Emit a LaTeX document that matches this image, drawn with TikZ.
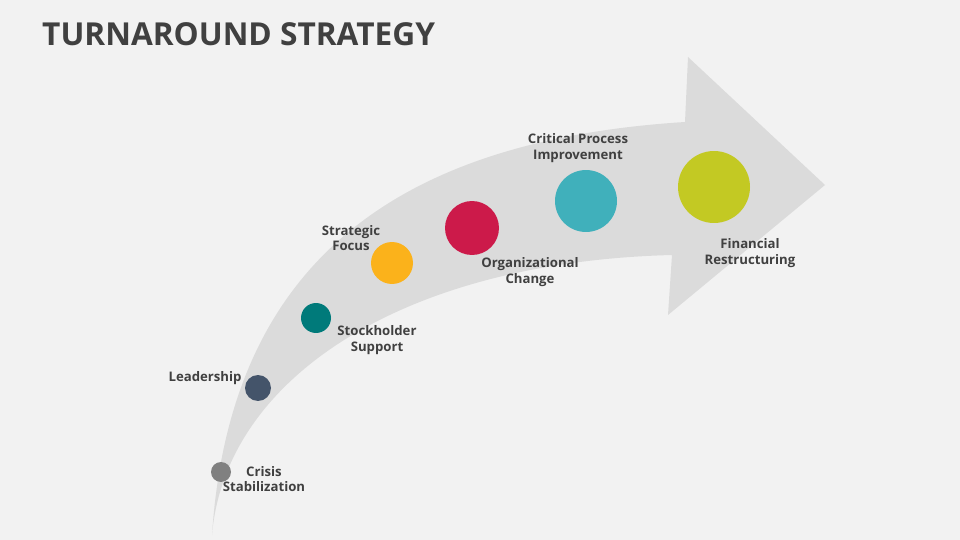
\documentclass[tikz,border=0pt]{standalone}
\usepackage{fontspec}
\setmainfont{Open Sans}
\usetikzlibrary{positioning}
\tikzset{
  stage/.style={circle, inner sep=0pt},
  lbl/.style={font=\bfseries\fontsize{7.5}{9}\selectfont, text=black!75, align=center}
}
\begin{document}
\begin{tikzpicture}[x=0.02cm, y=-0.02cm]
    \fill[black!5] (0,0) rectangle (960,540);
    \useasboundingbox (0,0) rectangle (960,540);

    \node (title) [anchor=west, font=\bfseries\fontsize{18}{20}\selectfont, text=black!75] at (36,34) {TURNAROUND STRATEGY};

    % curved arrow
    \fill[black!14] (212,535) .. controls (225,380) and (400,262) .. (672,255) -- (668,315) -- (825,185) -- (688,57) -- (685,122) .. controls (400,140) and (230,260) .. (212,535);

    \node (crisis)[stage, fill=black!50, minimum size=0.4cm] at (221,472) {};
    \node (leader)[stage, fill={rgb,255:red,68;green,84;blue,106}, minimum size=0.52cm] at (258,388) {};
    \node (stock)[stage, fill={rgb,255:red,0;green,122;blue,122}, minimum size=0.6cm] at (316,318) {};
    \node (focus)[stage, fill={rgb,255:red,251;green,178;blue,27}, minimum size=0.84cm] at (392,263) {};
    \node (org)[stage, fill={rgb,255:red,204;green,26;blue,74}, minimum size=1.08cm] at (472,228) {};
    \node (crit)[stage, fill={rgb,255:red,64;green,176;blue,187}, minimum size=1.24cm] at (586,201) {};
    \node (fin)[stage, fill={rgb,255:red,195;green,201;blue,35}, minimum size=1.44cm] at (714,187) {};

    \node (crisisDesc)[lbl] at (264,479) {Crisis\\Stabilization};
    \node (leaderDesc)[lbl] at (205,378) {Leadership};
    \node (stockDesc)[lbl] at (377,340) {Stockholder\\Support};
    \node (focusDesc)[lbl] at (351,238) {Strategic\\Focus};
    \node (orgDesc)[lbl] at (530,272) {Organizational\\Change};
    \node (critDesc)[lbl] at (578,148) {Critical Process\\Improvement};
    \node (finDesc)[lbl] at (750,253) {Financial\\Restructuring};
\end{tikzpicture}
\end{document}
